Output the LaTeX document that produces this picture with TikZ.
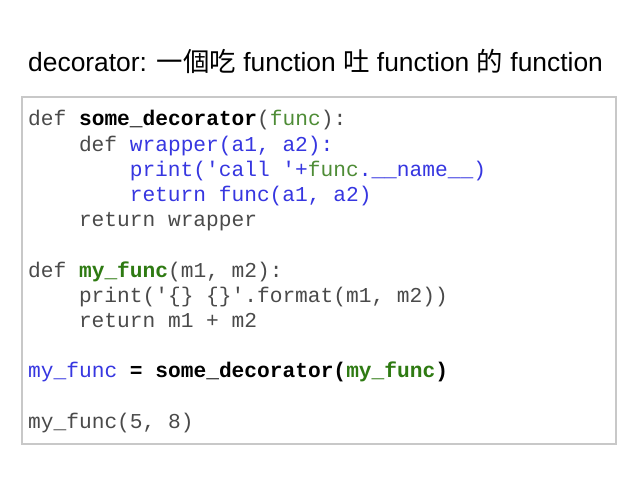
\documentclass[tikz,border=0pt]{standalone}
\usepackage{fontspec}
\setmainfont{Liberation Sans}
\setmonofont{Liberation Mono}
\newfontfamily\cjk{Noto Sans CJK TC}
\usepackage{tikz}
\usetikzlibrary{positioning}
\definecolor{codegray}{HTML}{4A4A4A}
\definecolor{codeblue}{HTML}{3636E0}
\definecolor{codegreen}{HTML}{4E8C36}
\definecolor{codegreenb}{HTML}{2E7A12}
\definecolor{boxgray}{HTML}{C8C8C8}
\newcommand{\fn}[1]{\textcolor{codeblue}{#1}}
\newcommand{\gr}[1]{\textcolor{codegreen}{#1}}
\newcommand{\grb}[1]{\textcolor{codegreenb}{\bfseries #1}}
\newcommand{\kw}[1]{\textcolor{black}{\bfseries #1}}
\newcommand{\codefont}{\ttfamily\fontsize{21.2pt}{25.2pt}\selectfont\frenchspacing}
\tikzset{
  codeline/.style={anchor=base west, inner sep=0pt, text=codegray, font=\codefont},
  titleline/.style={anchor=base west, inner sep=0pt, font=\fontsize{26.4pt}{30pt}\selectfont}
}
\begin{document}
\begin{tikzpicture}[x=1pt,y=1pt]
    \useasboundingbox (0,0) rectangle (638,-478);
    \node [titleline] (title) at (28,-72) {decorator: {\cjk 一個吃} function {\cjk 吐} function {\cjk 的} function};
    \draw [boxgray, line width=1.2pt] (22,-97) rectangle (616,-444);
    % decorator definition
    \node [codeline] (deco) at (28,-126) {def \kw{some\_decorator}(\gr{func}):};
    \node [codeline] (wrap) at (78.8,-151.2) {def \fn{wrapper(a1, a2):}};
    \node [codeline] (call) at (129.6,-176.4) {\fn{print('call '+}\gr{func}\fn{.\_\_name\_\_)}};
    \node [codeline] (ret) at (129.6,-201.6) {\fn{return func(a1, a2)}};
    \node [codeline] (retwrap) at (78.8,-226.8) {return wrapper};
    % decorated function
    \node [codeline] (myfunc) at (28,-277.2) {def \grb{my\_func}(m1, m2):};
    \node [codeline] (fmt) at (78.8,-302.4) {print('\{\} \{\}'.format(m1, m2))};
    \node [codeline] (sum) at (78.8,-327.6) {return m1 + m2};
    % applying it
    \node [codeline] (assign) at (28,-378) {\fn{my\_func} \kw{= some\_decorator(}\grb{my\_func}\kw{)}};
    \node [codeline] (use) at (28,-428.4) {my\_func(5, 8)};
  \end{tikzpicture}
\end{document}
